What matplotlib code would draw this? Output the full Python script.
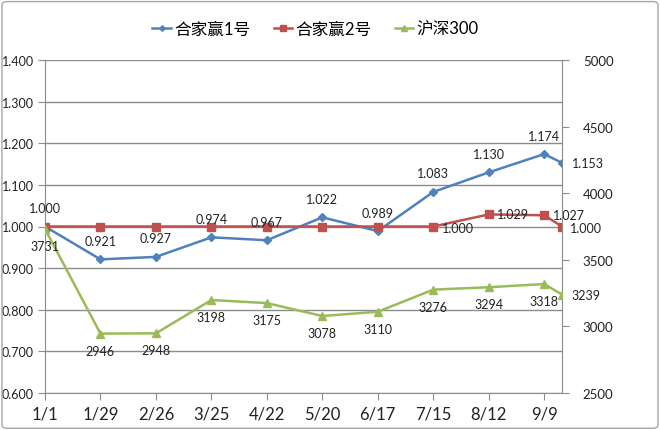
import matplotlib
matplotlib.use("Agg")
import matplotlib.pyplot as plt
from matplotlib.patches import FancyBboxPatch

plt.rcParams['font.family'] = ['Lato', 'Noto Sans CJK SC', 'DejaVu Sans']

# day offsets from 1/1
days = [0, 28, 56, 84, 112, 140, 168, 196, 224, 252, 261]
tick_days = [0, 28, 56, 84, 112, 140, 168, 196, 224, 252]
tick_labels = ['1/1', '1/29', '2/26', '3/25', '4/22', '5/20', '6/17', '7/15', '8/12', '9/9']

fund1 = [1.000, 0.921, 0.927, 0.974, 0.967, 1.022, 0.989, 1.083, 1.130, 1.174, 1.153]
fund2 = [1.000, 1.000, 1.000, 1.000, 1.000, 1.000, 1.000, 1.000, 1.029, 1.027, 1.000]
hs300 = [3731, 2946, 2948, 3198, 3175, 3078, 3110, 3276, 3294, 3318, 3239]

names = ['合家赢1号', '合家赢2号', '沪深300']
c1, c2, c3 = '#4F81BD', '#C0504D', '#9BBB59'
grid_c = '#8C8C8C'

fig = plt.figure(figsize=(6.6, 4.31), dpi=100)
ax = fig.add_axes([45/660, 1-394/431, (562-45)/660, (394-61)/431])
ax2 = ax.twinx()

l1, = ax.plot(days, fund1, color=c1, lw=1.8, marker='D', ms=4, label=names[0], zorder=3)
l2, = ax.plot(days, fund2, color=c2, lw=1.8, marker='s', ms=5.5, label=names[1], zorder=3)
l3, = ax2.plot(days, hs300, color=c3, lw=1.8, marker='^', ms=5.5, label=names[2], zorder=3)

ax.set_xlim(0, 261)
ax.set_ylim(0.6, 1.4)
yt = [0.6, 0.7, 0.8, 0.9, 1.0, 1.1, 1.2, 1.3, 1.4]
ax.set_yticks(yt)
ax.set_yticklabels([f'{v:.3f}' for v in yt])
ax2.set_ylim(2500, 5000)
ax2.set_yticks([2500, 3000, 3500, 4000, 4500, 5000])
ax.set_xticks(tick_days)
ax.set_xticklabels(tick_labels, fontsize=12, color='#222222')
ax.grid(axis='y', color=grid_c, lw=1)
ax.set_axisbelow(True)

for a in (ax, ax2):
    for s in a.spines.values():
        s.set_visible(False)
ax.spines['left'].set_visible(True)
ax.spines['left'].set_color(grid_c)
ax.spines['bottom'].set_visible(True)
ax.spines['bottom'].set_color(grid_c)
ax2.spines['right'].set_visible(True)
ax2.spines['right'].set_color(grid_c)
ax.tick_params(axis='y', labelsize=9, colors=grid_c, labelcolor='#222222', length=5, pad=3)
ax.tick_params(axis='x', colors=grid_c, labelcolor='#222222', length=5, pad=4)
ax2.tick_params(axis='y', labelsize=9.5, colors=grid_c, labelcolor='#222222', length=5, pad=10)

fs = 9
tc = '#222222'
# fund1 labels above
for i, (d, v) in enumerate(zip(days, fund1)):
    if i == len(days) - 1:
        ax.annotate(f'{v:.3f}', (d, v), xytext=(7, 0), textcoords='offset points',
                    ha='left', va='center', fontsize=fs, color=tc)
    else:
        ax.annotate(f'{v:.3f}', (d, v), xytext=(0, 9), textcoords='offset points',
                    ha='center', va='bottom', fontsize=fs, color=tc)
# fund2 labels (visible ones)
for i in [7, 8, 9, 10]:
    ax.annotate(f'{fund2[i]:.3f}', (days[i], fund2[i]), xytext=(6, -1 if i in (7, 10) else 0),
                textcoords='offset points', ha='left', va='center', fontsize=fs, color=tc)
# hs300 labels below
for i, (d, v) in enumerate(zip(days, hs300)):
    if i == len(days) - 1:
        ax2.annotate(f'{v}', (d, v), xytext=(7, 0), textcoords='offset points',
                     ha='left', va='center', fontsize=fs, color=tc)
    else:
        ax2.annotate(f'{v}', (d, v), xytext=(0, -8), textcoords='offset points',
                     ha='center', va='top', fontsize=fs, color=tc)

fig.legend(handles=[l1, l2, l3], labels=names, loc='center', bbox_to_anchor=(0.478, 1-30/431),
           ncol=3, frameon=False, fontsize=12, handlelength=1.1, handletextpad=0.2,
           columnspacing=1.4, markerscale=0.7)

fig.patches.append(FancyBboxPatch((0.003, 0.004), 0.994, 0.99, boxstyle='round,pad=0,rounding_size=0.008',
                                  transform=fig.transFigure, fill=False, ec='#A6A6A6', lw=1))

fig.savefig('out.png', dpi=100)
